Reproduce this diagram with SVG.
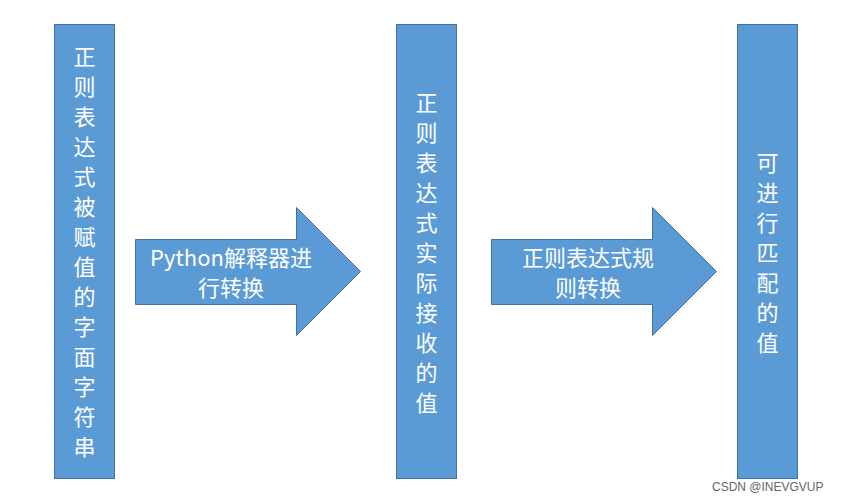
<svg xmlns="http://www.w3.org/2000/svg" width="841" height="502" viewBox="0 0 841 502">
<style>
.b{fill:#5B9BD5;stroke:#41719C;stroke-width:1}
.t{fill:#fff;font-family:"Noto Sans CJK SC","Liberation Sans",sans-serif;font-size:22px;text-anchor:middle}
.w{fill:#666;font-family:"Liberation Sans",sans-serif;font-size:12px}
</style>
<rect width="841" height="502" fill="#fff"/>
<g id="n1"><rect class="b" x="54.5" y="24.5" width="60" height="454"/>
<text class="t" x="84.5" y="65"><tspan x="84.5">正</tspan><tspan x="84.5" dy="30">则</tspan><tspan x="84.5" dy="30">表</tspan><tspan x="84.5" dy="30">达</tspan><tspan x="84.5" dy="30">式</tspan><tspan x="84.5" dy="30">被</tspan><tspan x="84.5" dy="30">赋</tspan><tspan x="84.5" dy="30">值</tspan><tspan x="84.5" dy="30">的</tspan><tspan x="84.5" dy="30">字</tspan><tspan x="84.5" dy="30">面</tspan><tspan x="84.5" dy="30">字</tspan><tspan x="84.5" dy="30">符</tspan><tspan x="84.5" dy="30">串</tspan></text></g>
<g id="n2"><rect class="b" x="396.5" y="24.5" width="60" height="454"/>
<text class="t" x="426.5" y="111"><tspan x="426.5">正</tspan><tspan x="426.5" dy="30">则</tspan><tspan x="426.5" dy="30">表</tspan><tspan x="426.5" dy="30">达</tspan><tspan x="426.5" dy="30">式</tspan><tspan x="426.5" dy="30">实</tspan><tspan x="426.5" dy="30">际</tspan><tspan x="426.5" dy="30">接</tspan><tspan x="426.5" dy="30">收</tspan><tspan x="426.5" dy="30">的</tspan><tspan x="426.5" dy="30">值</tspan></text></g>
<g id="n3"><rect class="b" x="737.5" y="24.5" width="60" height="454"/>
<text class="t" x="767.5" y="171"><tspan x="767.5">可</tspan><tspan x="767.5" dy="30">进</tspan><tspan x="767.5" dy="30">行</tspan><tspan x="767.5" dy="30">匹</tspan><tspan x="767.5" dy="30">配</tspan><tspan x="767.5" dy="30">的</tspan><tspan x="767.5" dy="30">值</tspan></text></g>
<g id="connectors">
<g id="a1"><path class="b" d="M135.5 239.5H296.5V207.5L360.5 271.5L296.5 335.5V304.5H135.5Z"/>
<text class="t" x="231" y="266">Python解释器进</text><text class="t" x="231" y="296">行转换</text></g>
<g id="a2"><path class="b" d="M491.5 239.5H652.5V207.5L716.5 271.5L652.5 335.5V304.5H491.5Z"/>
<text class="t" x="588" y="266">正则表达式规</text><text class="t" x="588" y="296">则转换</text></g>
</g>
<text class="w" x="712" y="491">CSDN @INEVGVUP</text>
</svg>
